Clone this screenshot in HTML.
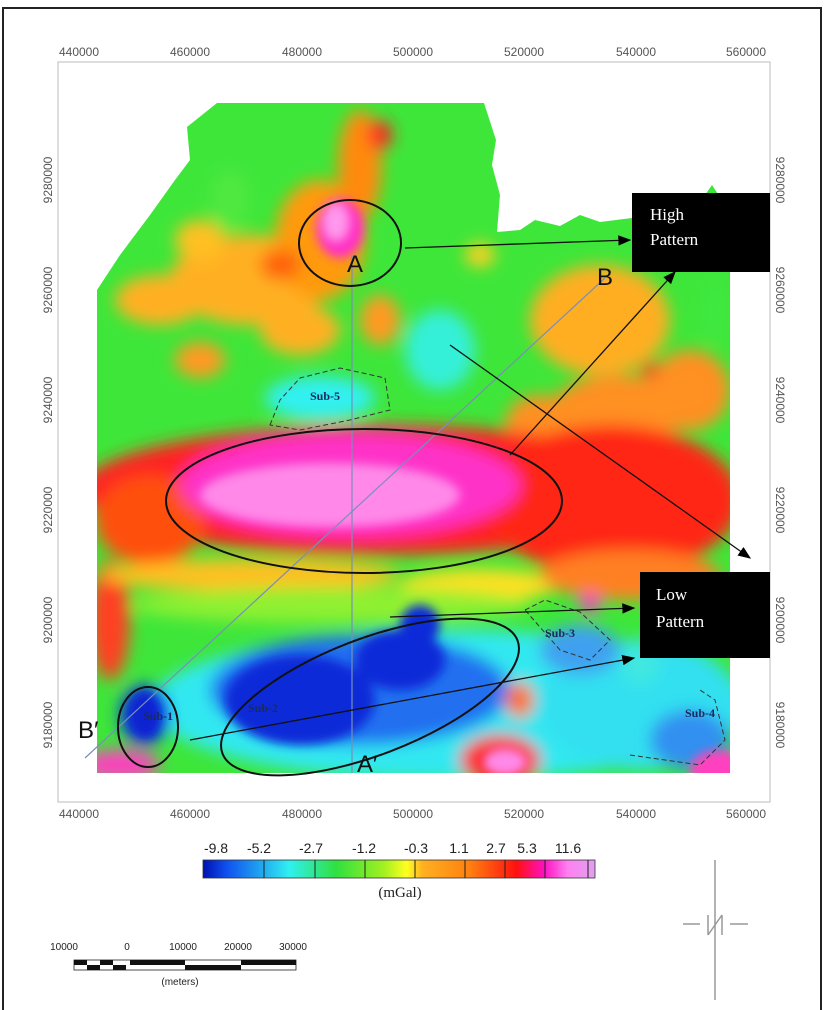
<!DOCTYPE html>
<html><head><meta charset="utf-8"><style>
html,body{margin:0;padding:0;background:#fff;}
svg{display:block;font-family:"Liberation Sans",sans-serif;}
</style></head><body>
<svg width="833" height="1010" viewBox="0 0 833 1010" xmlns="http://www.w3.org/2000/svg">
<defs>
<clipPath id="dc"><path d="M217,103 L484,103 L496,140 L492,165 L500,195 L497,232 L520,230 L535,220 L560,226 L580,215 L600,222 L632,218 L632,272 L700,272 L705,195 L712,185 L722,200 L730,215 L730,773 L97,773 L97,290 L120,255 L150,215 L175,180 L190,160 L187,127 Z"/></clipPath>
<filter id="bl" x="-20%" y="-20%" width="140%" height="140%"><feGaussianBlur stdDeviation="8"/></filter>
<filter id="bl2" x="-20%" y="-20%" width="140%" height="140%"><feGaussianBlur stdDeviation="5"/></filter>
<marker id="ar" markerWidth="10" markerHeight="8" refX="9" refY="4" orient="auto"><path d="M0,0 L10,4 L0,8 Z" fill="#000"/></marker>
</defs>
<rect x="3" y="8" width="818" height="1010" fill="none" stroke="#222" stroke-width="2"/>
<rect x="58" y="62" width="712" height="740" fill="none" stroke="#bbb" stroke-width="1"/>
<g font-size="12" fill="#555" text-anchor="middle">
<text x="79" y="56">440000</text><text x="190" y="56">460000</text><text x="302" y="56">480000</text><text x="413" y="56">500000</text><text x="524" y="56">520000</text><text x="636" y="56">540000</text><text x="746" y="56">560000</text>
<text x="79" y="818">440000</text><text x="190" y="818">460000</text><text x="302" y="818">480000</text><text x="413" y="818">500000</text><text x="524" y="818">520000</text><text x="636" y="818">540000</text><text x="746" y="818">560000</text>
<text transform="translate(52,180) rotate(-90)">9280000</text>
<text transform="translate(52,290) rotate(-90)">9260000</text>
<text transform="translate(52,400) rotate(-90)">9240000</text>
<text transform="translate(52,510) rotate(-90)">9220000</text>
<text transform="translate(52,620) rotate(-90)">9200000</text>
<text transform="translate(52,725) rotate(-90)">9180000</text>
<text transform="translate(776,180) rotate(90)">9280000</text>
<text transform="translate(776,290) rotate(90)">9260000</text>
<text transform="translate(776,400) rotate(90)">9240000</text>
<text transform="translate(776,510) rotate(90)">9220000</text>
<text transform="translate(776,620) rotate(90)">9200000</text>
<text transform="translate(776,725) rotate(90)">9180000</text>
</g>
<g clip-path="url(#dc)">
<rect x="90" y="100" width="650" height="680" fill="#3ee63a"/>
<g filter="url(#bl)">
<ellipse cx="250" cy="280" rx="80" ry="45" fill="#ffb020"/>
<ellipse cx="160" cy="300" rx="45" ry="25" fill="#ffb020"/>
<ellipse cx="200" cy="240" rx="25" ry="20" fill="#ffc020"/>
<ellipse cx="320" cy="240" rx="45" ry="60" fill="#ff9a10"/>
<ellipse cx="360" cy="165" rx="22" ry="55" fill="#ff8a10"/>
<ellipse cx="380" cy="135" rx="12" ry="15" fill="#ff2020"/>
<ellipse cx="280" cy="265" rx="20" ry="15" fill="#ff6010"/>
<ellipse cx="300" cy="330" rx="40" ry="25" fill="#ffb020"/>
<ellipse cx="200" cy="360" rx="25" ry="18" fill="#ff9a20"/>
<ellipse cx="380" cy="320" rx="20" ry="25" fill="#ff9a20"/>
<ellipse cx="480" cy="255" rx="15" ry="12" fill="#ffd020"/>
<ellipse cx="230" cy="200" rx="20" ry="30" fill="#50e840"/>
<ellipse cx="440" cy="350" rx="35" ry="40" fill="#35f0d8"/>
<ellipse cx="320" cy="398" rx="55" ry="22" fill="#30f0f0"/>
<ellipse cx="600" cy="320" rx="70" ry="55" fill="#ffae20"/>
<ellipse cx="690" cy="390" rx="40" ry="40" fill="#ff9020"/>
<ellipse cx="620" cy="410" rx="70" ry="35" fill="#ff9020"/>
<ellipse cx="650" cy="370" rx="8" ry="8" fill="#ff2020"/>
<ellipse cx="715" cy="310" rx="12" ry="30" fill="#40e840"/>
<ellipse cx="540" cy="425" rx="35" ry="30" fill="#ff9020"/>
<ellipse cx="380" cy="490" rx="300" ry="65" fill="#ff2020"/>
<ellipse cx="610" cy="500" rx="130" ry="75" fill="#ff2818"/>
<ellipse cx="150" cy="520" rx="55" ry="45" fill="#ff5010"/>
<ellipse cx="110" cy="620" rx="20" ry="60" fill="#ff4020"/>
<ellipse cx="350" cy="485" rx="170" ry="52" fill="#ff30c8"/>
<ellipse cx="250" cy="575" rx="150" ry="16" fill="#ffc020"/>
<ellipse cx="480" cy="585" rx="80" ry="16" fill="#ffe020"/>
<ellipse cx="630" cy="575" rx="90" ry="25" fill="#ff8020"/>
<ellipse cx="330" cy="605" rx="200" ry="18" fill="#90f030"/>
<ellipse cx="450" cy="705" rx="300" ry="75" fill="#30e8f0"/>
<ellipse cx="640" cy="705" rx="100" ry="65" fill="#30e0f0"/>
<ellipse cx="360" cy="690" rx="150" ry="55" fill="#2070f0"/>
<ellipse cx="580" cy="650" rx="40" ry="25" fill="#40a0f0"/>
<ellipse cx="690" cy="740" rx="40" ry="30" fill="#3090f0"/>
<ellipse cx="145" cy="715" rx="25" ry="30" fill="#1030e0"/>
<ellipse cx="520" cy="700" rx="14" ry="18" fill="#ff7010"/>
<ellipse cx="500" cy="760" rx="40" ry="25" fill="#ff2020"/>
<ellipse cx="120" cy="765" rx="40" ry="15" fill="#ff40c0"/>
<ellipse cx="590" cy="603" rx="10" ry="10" fill="#ff30c8"/>
<ellipse cx="640" cy="665" rx="20" ry="20" fill="#40e8e0"/>
</g>
<g filter="url(#bl2)">
<ellipse cx="340" cy="228" rx="24" ry="30" fill="#ff30c8"/>
<ellipse cx="336" cy="222" rx="12" ry="18" fill="#ff99ee"/>
<ellipse cx="330" cy="495" rx="130" ry="32" fill="#ff88e8"/>
<ellipse cx="300" cy="700" rx="75" ry="45" fill="#0a2ad8"/>
<ellipse cx="400" cy="660" rx="45" ry="30" fill="#0a2ad8"/>
<ellipse cx="420" cy="625" rx="20" ry="20" fill="#0a2ad8"/>
<ellipse cx="145" cy="715" rx="15" ry="22" fill="#0a20d0"/>
<ellipse cx="505" cy="762" rx="22" ry="14" fill="#ff88e8"/>
<ellipse cx="720" cy="770" rx="30" ry="20" fill="#ff40c0"/>
</g>
</g>
<path d="M270,425 L280,400 L300,378 L340,368 L385,378 L390,410 L350,420 L300,430 Z" fill="none" stroke="#333" stroke-dasharray="5,3" stroke-width="1"/>
<path d="M525,610 L545,600 L580,612 L610,640 L590,660 L560,650 Z" fill="none" stroke="#333" stroke-dasharray="5,3" stroke-width="1"/>
<path d="M630,755 L700,765 L725,740 L715,700 L700,690" fill="none" stroke="#333" stroke-dasharray="5,3" stroke-width="1"/>
<g font-family="Liberation Serif,serif" font-size="12" fill="#1a2a60" font-weight="bold">
<text x="310" y="400">Sub-5</text><text x="545" y="637">Sub-3</text><text x="685" y="717">Sub-4</text><text x="248" y="712">Sub-2</text><text x="143" y="720">Sub-1</text>
</g>
<line x1="352" y1="255" x2="352" y2="773" stroke="#7890b8" stroke-width="1.2"/>
<line x1="85" y1="758" x2="605" y2="278" stroke="#7890b8" stroke-width="1.2"/>
<g fill="none" stroke="#111" stroke-width="2">
<ellipse cx="350" cy="243" rx="51" ry="43"/>
<ellipse cx="364" cy="501" rx="198" ry="72"/>
<ellipse cx="148" cy="727" rx="30" ry="40"/>
<ellipse cx="370" cy="697" rx="158" ry="58" transform="rotate(-21 370 697)"/>
</g>
<g stroke="#111" stroke-width="1.3" marker-end="url(#ar)">
<line x1="405" y1="248" x2="630" y2="240"/>
<line x1="510" y1="455" x2="675" y2="272"/>
<line x1="450" y1="345" x2="750" y2="558"/>
<line x1="390" y1="617" x2="634" y2="608"/>
<line x1="190" y1="740" x2="634" y2="658"/>
</g>
<g font-size="24" fill="#111">
<text x="347" y="272">A</text><text x="597" y="285">B</text><text x="78" y="738">B′</text><text x="357" y="772">A′</text>
</g>
<rect x="632" y="193" width="138" height="79" fill="#000"/>
<rect x="640" y="572" width="130" height="86" fill="#000"/>
<g font-family="Liberation Serif,serif" font-size="17" fill="#fff">
<text x="650" y="220">High</text><text x="650" y="245">Pattern</text>
<text x="656" y="600">Low</text><text x="656" y="627">Pattern</text>
</g>
<g font-size="14" fill="#222" text-anchor="middle">
<text x="216" y="853">-9.8</text><text x="259" y="853">-5.2</text><text x="311" y="853">-2.7</text><text x="364" y="853">-1.2</text><text x="416" y="853">-0.3</text><text x="459" y="853">1.1</text><text x="496" y="853">2.7</text><text x="527" y="853">5.3</text><text x="568" y="853">11.6</text>
</g>
<defs><linearGradient id="cb" x1="0" x2="1">
<stop offset="0" stop-color="#0010b0"/><stop offset="0.06" stop-color="#1050f0"/><stop offset="0.15" stop-color="#20a8f0"/><stop offset="0.22" stop-color="#30f0f0"/><stop offset="0.34" stop-color="#30e040"/><stop offset="0.46" stop-color="#a0f020"/><stop offset="0.52" stop-color="#ffff20"/><stop offset="0.56" stop-color="#ffb020"/><stop offset="0.68" stop-color="#ff8010"/><stop offset="0.80" stop-color="#ff1010"/><stop offset="0.87" stop-color="#ff10c0"/><stop offset="0.93" stop-color="#ff80f0"/><stop offset="1" stop-color="#e0a0f0"/>
</linearGradient></defs>
<rect x="203" y="860" width="392" height="18" fill="url(#cb)" stroke="#333" stroke-width="0.8"/>
<g stroke="#222" stroke-width="1"><line x1="264" y1="860" x2="264" y2="878"/><line x1="315" y1="860" x2="315" y2="878"/><line x1="365" y1="860" x2="365" y2="878"/><line x1="415" y1="860" x2="415" y2="878"/><line x1="465" y1="860" x2="465" y2="878"/><line x1="505" y1="860" x2="505" y2="878"/><line x1="545" y1="860" x2="545" y2="878"/><line x1="588" y1="860" x2="588" y2="878"/></g>
<text x="400" y="897" font-family="Liberation Serif,serif" font-size="15" fill="#222" text-anchor="middle">(mGal)</text>
<g font-size="10" fill="#222" text-anchor="middle">
<text x="64" y="950">10000</text><text x="127" y="950">0</text><text x="183" y="950">10000</text><text x="238" y="950">20000</text><text x="293" y="950">30000</text><text x="180" y="985">(meters)</text>
</g>
<rect x="74" y="960" width="222" height="10" fill="#fff" stroke="#222" stroke-width="0.8"/>
<g fill="#111">
<rect x="74" y="960" width="13" height="5"/><rect x="87" y="965" width="13" height="5"/><rect x="100" y="960" width="13" height="5"/><rect x="113" y="965" width="13" height="5"/>
<rect x="130" y="960" width="55" height="5"/><rect x="185" y="965" width="56" height="5"/><rect x="241" y="960" width="55" height="5"/>
</g>
<g stroke="#999" stroke-width="1.5" fill="none">
<line x1="715" y1="860" x2="715" y2="1000"/>
<line x1="683" y1="924" x2="700" y2="924"/><line x1="730" y1="924" x2="748" y2="924"/>
<path d="M708,935 L722,915 M708,915 L708,935 M722,915 L722,935"/>
</g>
</svg>
</body></html>
